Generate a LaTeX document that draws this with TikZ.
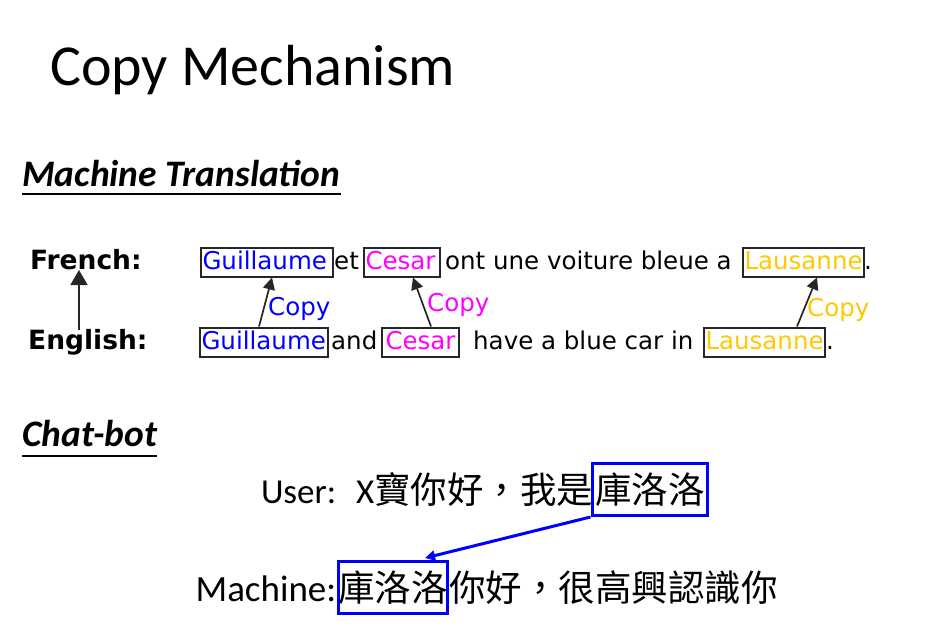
\documentclass[tikz,border=0pt]{standalone}
\usepackage{fontspec}
\setmainfont{Carlito}
\newfontfamily\mtfont{DejaVu Sans}
\newfontfamily\cjk{Noto Sans CJK TC}
\usetikzlibrary{arrows.meta,positioning,calc}
\definecolor{copyyellow}{RGB}{255,200,0}
\definecolor{copymagenta}{RGB}{255,0,255}
\definecolor{copyblue}{RGB}{0,0,255}
\newcommand\zh[1]{{\cjk\fontsize{36.5}{40}\selectfont #1}}

\begin{document}
\begin{tikzpicture}[x=1pt,y=-1pt,
    word/.style={inner sep=0pt, anchor=base west, font=\mtfont\fontsize{24.5}{26}\selectfont},
    lab/.style={inner sep=0pt, anchor=base west, font=\mtfont\bfseries\fontsize{26.5}{28}\selectfont},
    wbox/.style={word, draw=black!85, line width=2pt, inner xsep=1.5pt, inner ysep=2.5pt,
      text height=19pt, text depth=5pt, align=left},
    cpy/.style={black!85, line width=1.7pt, -{Triangle[length=12pt,width=12pt]}},
    head/.style={inner sep=0pt, anchor=base west, font=\bfseries\itshape\fontsize{37.4}{40}\selectfont},
    uline/.style={line width=1.5pt},
    chat/.style={inner sep=0pt, font=\fontsize{35}{40}\selectfont},
    cbox/.style={chat, draw=copyblue, line width=3pt, anchor=base west,
      text height=33pt, text depth=6pt, inner ysep=6.5pt}]
  \useasboundingbox (0,0) rectangle (932,633);
  % title and headings
  \node (title) [inner sep=0pt, anchor=base west, font=\fontsize{58}{60}\selectfont] at (50,85) {Copy Mechanism};
  \node (mt-head) [head, text depth=8pt] at (22,186) {Machine Translation};
  \draw [uline] (mt-head.south west) -- (mt-head.south east);
  \node (cb-head) [head, text depth=10pt] at (22,446) {Chat-bot};
  \draw [uline] (cb-head.south west) -- (cb-head.south east);
  % french line
  \path (30,269) node (fr-lab) [lab] {French:}
        (200,269) node (fr-g) [wbox, text width=129pt, text=copyblue] {Guillaume}
        (334,269) node (fr-et) [word] {et}
        (363,269) node (fr-c) [wbox, text width=73pt, text=copymagenta] {Cesar}
        (445,269) node (fr-rest) [word] {ont une voiture bleue a}
        (742,269) node (fr-l) [wbox, text width=118pt, text=copyyellow] {Lausanne}
        (864,269) node (fr-dot) [word] {.};
  % english line
  \path (28,349) node (en-lab) [lab] {English:}
        (199,349) node (en-g) [wbox, text width=125pt, text=copyblue] {Guillaume}
        (331,349) node (en-and) [word] {and}
        (381,349) node (en-c) [wbox, text width=74pt, text=copymagenta] {\hspace{2pt}Cesar}
        (473,349) node (en-rest) [word] {have a blue car in}
        (703,349) node (en-l) [wbox, text width=118pt, text=copyyellow] {Lausanne}
        (826,349) node (en-dot) [word] {.};
  \draw [cpy, -{Triangle[length=15pt,width=17pt]}] ($(en-lab.base west)+(51,-19)$) -- ($(fr-lab.base west)+(49,1)$);
  \draw [cpy] ($(en-g.north west)+(60,0)$) -- ($(fr-g.south west)+(72,0)$);
  \draw [cpy] ($(en-c.north west)+(50,0)$) -- ($(fr-c.south west)+(50,0)$);
  \draw [cpy] ($(en-l.north west)+(94,0)$) -- ($(fr-l.south west)+(75,0)$);
  \node (cp-g) [word, text=copyblue] at (268,315) {Copy};
  \node (cp-c) [word, text=copymagenta] at (427,311) {Copy};
  \node (cp-l) [word, text=copyyellow] at (807,316) {Copy};
  % chat-bot lines
  \node (u-box) [cbox, inner xsep=3pt] at (590.5,503) {\zh{庫洛洛}};
  \node (u-text) [chat, anchor=base east] at ($(u-box.base west)+(3,0)$) {User:\hspace{20pt}X\zh{寶你好，我是}};
  \node (m-box) [cbox, inner xsep=0pt] at (336.5,601) {\zh{庫洛洛}};
  \node (m-text) [chat, anchor=base east, font=\fontsize{37}{40}\selectfont] at (m-box.base west) {Machine:};
  \node (m-rest) [chat, anchor=base west] at (m-box.base east) {\zh{你好，很高興認識你}};
  \draw [copyblue, line width=3pt, -{Triangle[length=10pt,width=10pt]}] (u-box.south west) -- ($(m-box.north east)+(-24,-2)$);
\end{tikzpicture}
\end{document}
